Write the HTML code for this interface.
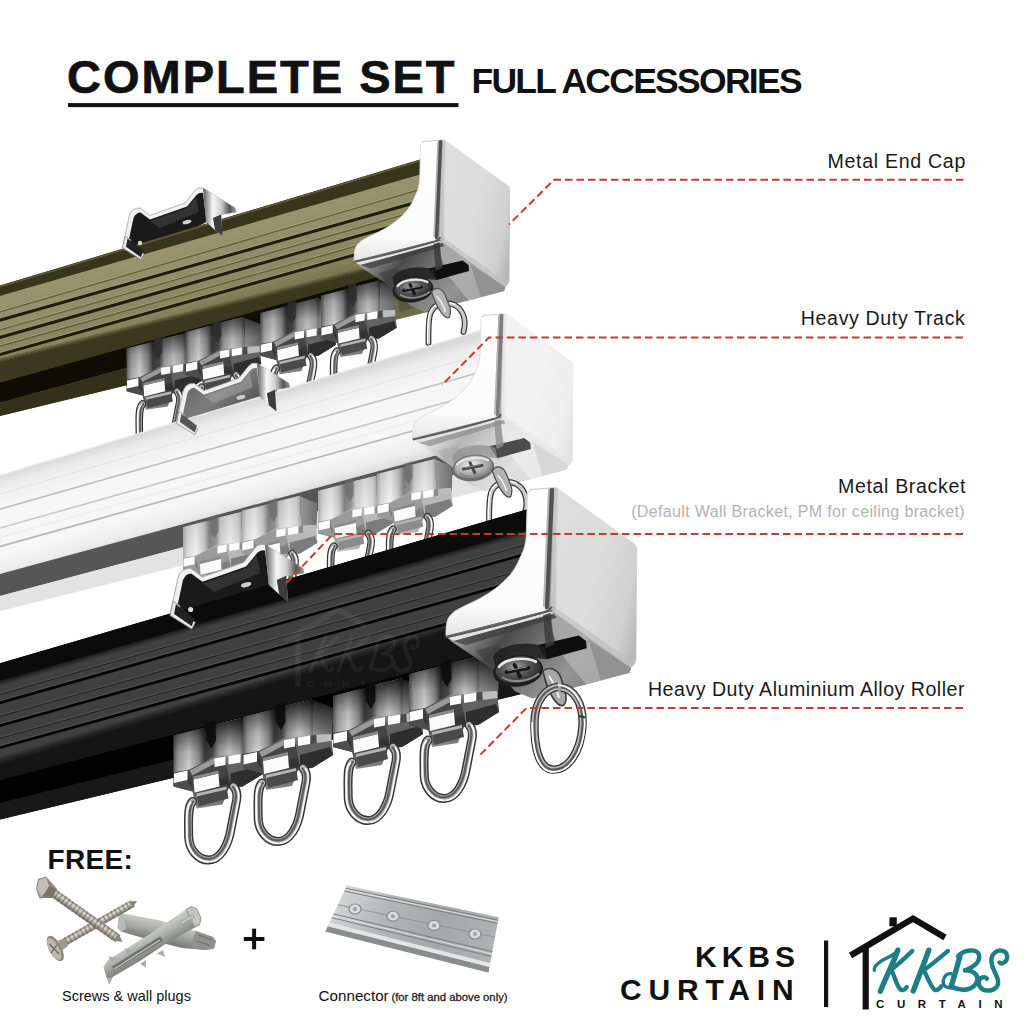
<!DOCTYPE html>
<html><head><meta charset="utf-8"><title>Complete Set</title>
<style>
html,body{margin:0;padding:0;background:#fff;}
body{width:1024px;height:1024px;position:relative;overflow:hidden;font-family:"Liberation Sans",sans-serif;color:#111;}
svg.art{position:absolute;left:0;top:0;}
.t{position:absolute;white-space:nowrap;line-height:1;transform-origin:left top;}
.r{transform-origin:right top;}
.lbl{font-size:19.6px;color:#1a1a1a;letter-spacing:0.45px;}
</style></head><body>
<svg class="art" width="1024" height="1024" viewBox="0 0 1024 1024">
<defs>

<linearGradient id="chromeV" x1="0" y1="0" x2="0" y2="1">
 <stop offset="0" stop-color="#f4f4f4"/><stop offset="0.35" stop-color="#bdbdbd"/><stop offset="0.55" stop-color="#6a6a6a"/><stop offset="0.8" stop-color="#a8a8a8"/><stop offset="1" stop-color="#e8e8e8"/>
</linearGradient>
<linearGradient id="chromeH" x1="0" y1="0" x2="1" y2="0">
 <stop offset="0" stop-color="#5a5a5a"/><stop offset="0.3" stop-color="#f8f8f8"/><stop offset="0.55" stop-color="#cfcfcf"/><stop offset="0.8" stop-color="#555"/><stop offset="1" stop-color="#9a9a9a"/>
</linearGradient>
<linearGradient id="ringG" x1="0" y1="0" x2="1" y2="0">
 <stop offset="0" stop-color="#777"/><stop offset="0.25" stop-color="#f5f5f5"/><stop offset="0.5" stop-color="#9c9c9c"/><stop offset="0.75" stop-color="#ededed"/><stop offset="1" stop-color="#666"/>
</linearGradient>
<linearGradient id="bodyG" x1="0" y1="0" x2="1" y2="0">
 <stop offset="0" stop-color="#606060"/><stop offset="0.07" stop-color="#a8a8a8"/><stop offset="0.22" stop-color="#d8d8d8"/><stop offset="0.36" stop-color="#989898"/><stop offset="0.45" stop-color="#3f3f3f"/><stop offset="0.56" stop-color="#505050"/><stop offset="0.64" stop-color="#a9a9a9"/><stop offset="0.8" stop-color="#dedede"/><stop offset="0.94" stop-color="#b8b8b8"/><stop offset="1" stop-color="#808080"/>
</linearGradient>
<linearGradient id="bodyGL" x1="0" y1="0" x2="1" y2="0">
 <stop offset="0" stop-color="#b0b0b0"/><stop offset="0.07" stop-color="#dcdcdc"/><stop offset="0.22" stop-color="#f6f6f6"/><stop offset="0.36" stop-color="#cfcfcf"/><stop offset="0.45" stop-color="#8a8a8a"/><stop offset="0.56" stop-color="#9a9a9a"/><stop offset="0.64" stop-color="#dadada"/><stop offset="0.8" stop-color="#f8f8f8"/><stop offset="0.94" stop-color="#e2e2e2"/><stop offset="1" stop-color="#b5b5b5"/>
</linearGradient>
<linearGradient id="bodyShadeK" x1="0" y1="0" x2="0" y2="1">
 <stop offset="0" stop-color="#000" stop-opacity="0.9"/><stop offset="0.3" stop-color="#000" stop-opacity="0.5"/><stop offset="0.6" stop-color="#000" stop-opacity="0.15"/><stop offset="1" stop-color="#000" stop-opacity="0"/>
</linearGradient>
<linearGradient id="bodyShadeL" x1="0" y1="0" x2="0" y2="1">
 <stop offset="0" stop-color="#000" stop-opacity="0.15"/><stop offset="1" stop-color="#000" stop-opacity="0"/>
</linearGradient>
<linearGradient id="sideG" x1="0" y1="0" x2="1" y2="0.3">
 <stop offset="0" stop-color="#adadad"/><stop offset="1" stop-color="#7d7d7d"/>
</linearGradient>
<linearGradient id="bodyShade" x1="0" y1="0" x2="0" y2="1">
 <stop offset="0" stop-color="#000" stop-opacity="0.7"/><stop offset="0.45" stop-color="#000" stop-opacity="0.2"/><stop offset="1" stop-color="#000" stop-opacity="0"/>
</linearGradient>
<linearGradient id="capRight" x1="0" y1="0.3" x2="1" y2="0.8">
 <stop offset="0" stop-color="#dedede"/><stop offset="0.5" stop-color="#dcdcdc"/><stop offset="0.85" stop-color="#d0d0d0"/><stop offset="1" stop-color="#b8b8b8"/>
</linearGradient>
<linearGradient id="capRidge" x1="0" y1="0" x2="1" y2="0">
 <stop offset="0" stop-color="#ffffff"/><stop offset="0.25" stop-color="#a5a5a5"/><stop offset="0.45" stop-color="#4a4a4a"/><stop offset="0.62" stop-color="#8a8a8a"/><stop offset="0.8" stop-color="#c9c9c9"/><stop offset="1" stop-color="#e3e3e3"/>
</linearGradient>
<linearGradient id="capBottom" x1="0" y1="0" x2="1" y2="0.4">
 <stop offset="0" stop-color="#6a6a6a"/><stop offset="0.18" stop-color="#9a9a9a"/><stop offset="0.38" stop-color="#4a4a4a"/><stop offset="0.55" stop-color="#6d6d6d"/><stop offset="0.8" stop-color="#949494"/><stop offset="1" stop-color="#808080"/>
</linearGradient>
<linearGradient id="capLeft" x1="0" y1="0" x2="0" y2="1">
 <stop offset="0" stop-color="#ffffff"/><stop offset="0.8" stop-color="#fbfbfb"/><stop offset="1" stop-color="#e4e4e4"/>
</linearGradient>
<linearGradient id="capBottomL" x1="0" y1="0" x2="1" y2="0.4">
 <stop offset="0" stop-color="#cfcfcf"/><stop offset="0.18" stop-color="#ededed"/><stop offset="0.38" stop-color="#b5b5b5"/><stop offset="0.55" stop-color="#cdcdcd"/><stop offset="0.8" stop-color="#e2e2e2"/><stop offset="1" stop-color="#d5d5d5"/>
</linearGradient>
<radialGradient id="screwGL" cx="0.45" cy="0.4" r="0.7">
 <stop offset="0" stop-color="#f4f4f4"/><stop offset="0.45" stop-color="#b9b9b9"/><stop offset="1" stop-color="#7a7a7a"/>
</radialGradient>
<radialGradient id="screwG" cx="0.45" cy="0.4" r="0.7">
 <stop offset="0" stop-color="#a5a5a5"/><stop offset="0.45" stop-color="#555"/><stop offset="1" stop-color="#1c1c1c"/>
</radialGradient>
<linearGradient id="brL" x1="0" y1="0" x2="1" y2="1">
 <stop offset="0" stop-color="#5c5c5c"/><stop offset="0.45" stop-color="#7d7d7d"/><stop offset="0.7" stop-color="#5a5a5a"/><stop offset="1" stop-color="#444"/>
</linearGradient>
<linearGradient id="nutGL" x1="0" y1="0" x2="0" y2="1">
 <stop offset="0" stop-color="#d0d0d0"/><stop offset="0.3" stop-color="#9a9a9a"/><stop offset="0.55" stop-color="#777"/><stop offset="0.8" stop-color="#a5a5a5"/><stop offset="1" stop-color="#c5c5c5"/>
</linearGradient>
<linearGradient id="nutG" x1="0" y1="0" x2="0" y2="1">
 <stop offset="0" stop-color="#9a9a9a"/><stop offset="0.3" stop-color="#4a4a4a"/><stop offset="0.55" stop-color="#2f2f2f"/><stop offset="0.8" stop-color="#6a6a6a"/><stop offset="1" stop-color="#8a8a8a"/>
</linearGradient>
<filter id="soft" x="-5%" y="-5%" width="110%" height="110%"><feGaussianBlur stdDeviation="0.6"/></filter>
<filter id="soft2" x="-5%" y="-5%" width="110%" height="110%"><feGaussianBlur stdDeviation="1.2"/></filter>


<g id="roller">
 <!-- side face -->
 <polygon points="313,700 333,708 332,738 313,740" fill="url(#sideG)"/>
 <!-- lobes -->
 <polygon points="243,717 275,709 284,706 313,699 313,740 284,740 259,752 243,756" fill="url(#bodyG)"/>
 <polygon points="243,717 275,709 284,706 313,699 333,708 332,738 313,740 284,740 259,752 243,756" fill="url(#bodyShade)"/>
 <polygon points="275,705 285,702 285.500,722 281,730 276,722" fill="#2e2e2e" opacity="0.85"/>
 <!-- chrome nut -->
 <polygon points="243,754 259,751 284,738 331,734 333,755 312,768 298,770 292,786 266,790 262,773 243,768" fill="url(#nutG)"/>
 <polygon points="258,752 284,739 296,745 296,757 262,770" fill="#454545"/>
 <polygon points="259,752 284,739.500 290,742 262,757" fill="#9a9a9a"/>
 <polygon points="296,746 331,738 333,755 312,768 300,768" fill="#626262"/>
 <polygon points="300,755 330,747 333,755 312,768 300,768" fill="#2e2e2e"/>
 <polygon points="243,764 257,761 262,771 262,773 243,768" fill="#4d4d4d"/>
 <polygon points="243.500,755 257,752 257,761.500 243.500,764.500" fill="#fdfdfd"/>
 <polygon points="284,740 295,738 295,746.500 284,748.500" fill="#fdfdfd"/>
 <polygon points="298,737.500 310,735.500 310,744 298,746" fill="#fdfdfd"/>
 <polygon points="311,735.500 316,734.800 316,743 311,744" fill="#4b4b4b"/>
 <polygon points="317,734.700 331,734 331.500,741 317,743" fill="#bdbdbd"/>
 <polygon points="263,761 288,755 289,768 264,774" fill="#fafafa"/>
 <polygon points="263,758 288,752 288,755 263,761" fill="#8b8b8b"/>
 <polygon points="266,775 296,768 298,780 268,788" fill="#4a4a4a"/>
 <polygon points="266,775 296,768 296,771 266,778" fill="#b5b5b5"/>
</g>
<g id="ring">
 <path d="M262,783 C258,787 258,795 258,805 L258.200,819 C259,832 268,841.500 278,841.500 C290,841.500 298,826 300.400,810.800 L306,782 C307,776 306,771 303,768" fill="none" stroke="#333" stroke-width="9" stroke-linecap="round"/>
 <path d="M262,783 C258,787 258,795 258,805 L258.200,819 C259,832 268,841.500 278,841.500 C290,841.500 298,826 300.400,810.800 L306,782 C307,776 306,771 303,768" fill="none" stroke="#b4b4b4" stroke-width="6.200" stroke-linecap="round"/>
 <path d="M262.800,783 C259,787 259,795 259,805 L259.200,819 C260,831 268,840.500 278,840.500 C289,840.500 297,826 299.400,810.800 L305,782 C306,776 305,771 302.500,768.500" fill="none" stroke="#5f5f5f" stroke-width="2.400" stroke-linecap="round"/>
 <path d="M260.200,784 C256.300,788 256.200,795 256.200,805 L256.400,819 C257.200,833 267,843.300 278,843.300" fill="none" stroke="#ffffff" stroke-width="1.800" stroke-linecap="round"/>
 <path d="M280,843.300 C292,842.500 300,827 302.400,811 L308,782 C308.800,777 308,772 305.500,768.500" fill="none" stroke="#ffffff" stroke-width="1.500" stroke-linecap="round"/>
</g>


<g id="rollerK">
 <!-- side face -->
 <polygon points="313,700 333,708 332,738 313,740" fill="url(#sideG)"/>
 <!-- lobes -->
 <polygon points="243,717 275,709 284,706 313,699 313,740 284,740 259,752 243,756" fill="url(#bodyG)"/>
 <polygon points="243,717 275,709 284,706 313,699 333,708 332,738 313,740 284,740 259,752 243,756" fill="url(#bodyShadeK)"/>
 <polygon points="275,705 285,702 285.500,722 281,730 276,722" fill="#0c0c0c" opacity="0.9"/>
 <!-- chrome nut -->
 <polygon points="243,754 259,751 284,738 331,734 333,755 312,768 298,770 292,786 266,790 262,773 243,768" fill="url(#nutG)"/>
 <polygon points="258,752 284,739 296,745 296,757 262,770" fill="#454545"/>
 <polygon points="259,752 284,739.500 290,742 262,757" fill="#9a9a9a"/>
 <polygon points="296,746 331,738 333,755 312,768 300,768" fill="#626262"/>
 <polygon points="300,755 330,747 333,755 312,768 300,768" fill="#2e2e2e"/>
 <polygon points="243,764 257,761 262,771 262,773 243,768" fill="#4d4d4d"/>
 <polygon points="243.500,755 257,752 257,761.500 243.500,764.500" fill="#fdfdfd"/>
 <polygon points="284,740 295,738 295,746.500 284,748.500" fill="#fdfdfd"/>
 <polygon points="298,737.500 310,735.500 310,744 298,746" fill="#fdfdfd"/>
 <polygon points="311,735.500 316,734.800 316,743 311,744" fill="#4b4b4b"/>
 <polygon points="317,734.700 331,734 331.500,741 317,743" fill="#bdbdbd"/>
 <polygon points="263,761 288,755 289,768 264,774" fill="#fafafa"/>
 <polygon points="263,758 288,752 288,755 263,761" fill="#8b8b8b"/>
 <polygon points="266,775 296,768 298,780 268,788" fill="#4a4a4a"/>
 <polygon points="266,775 296,768 296,771 266,778" fill="#b5b5b5"/>
</g>


<g id="rollerL">
 <!-- side face -->
 <polygon points="313,700 333,708 332,738 313,740" fill="url(#sideG)"/>
 <!-- lobes -->
 <polygon points="243,717 275,709 284,706 313,699 313,740 284,740 259,752 243,756" fill="url(#bodyGL)"/>
 <polygon points="243,717 275,709 284,706 313,699 333,708 332,738 313,740 284,740 259,752 243,756" fill="url(#bodyShadeL)"/>
 <polygon points="275,705 285,702 285.500,722 281,730 276,722" fill="#6a6a6a" opacity="0.7"/>
 <!-- chrome nut -->
 <polygon points="243,754 259,751 284,738 331,734 333,755 312,768 298,770 292,786 266,790 262,773 243,768" fill="url(#nutGL)"/>
 <polygon points="258,752 284,739 296,745 296,757 262,770" fill="#9c9c9c"/>
 <polygon points="259,752 284,739.500 290,742 262,757" fill="#9a9a9a"/>
 <polygon points="296,746 331,738 333,755 312,768 300,768" fill="#b8b8b8"/>
 <polygon points="300,755 330,747 333,755 312,768 300,768" fill="#7c7c7c"/>
 <polygon points="243,764 257,761 262,771 262,773 243,768" fill="#9a9a9a"/>
 <polygon points="243.500,755 257,752 257,761.500 243.500,764.500" fill="#fdfdfd"/>
 <polygon points="284,740 295,738 295,746.500 284,748.500" fill="#fdfdfd"/>
 <polygon points="298,737.500 310,735.500 310,744 298,746" fill="#fdfdfd"/>
 <polygon points="311,735.500 316,734.800 316,743 311,744" fill="#8a8a8a"/>
 <polygon points="317,734.700 331,734 331.500,741 317,743" fill="#bdbdbd"/>
 <polygon points="263,761 288,755 289,768 264,774" fill="#fafafa"/>
 <polygon points="263,758 288,752 288,755 263,761" fill="#8b8b8b"/>
 <polygon points="266,775 296,768 298,780 268,788" fill="#8c8c8c"/>
 <polygon points="266,775 296,768 296,771 266,778" fill="#b5b5b5"/>
</g>


<g id="cap">
 <!-- bottom face -->
 <polygon points="-86.3,121.2 -0.85,99.6 64.7,146.9 63.5,151 28,160.5 -16,172 -30,166 -44.5,150.5 -82,125.5" fill="url(#capBottom)"/>
 <polygon points="0,100.4 64.7,146.9 63.5,151 28,160.5 8,136 -1,114" fill="#b2b2b2" opacity="0.8"/>
 <polygon points="30,124 64.7,146.9 63.5,151 40,157" fill="#8c8c8c" opacity="0.8"/>
 <polygon points="-85,122.600 -0.85,101 1.500,102.800 -80,125" fill="#e2e2e2"/>
 <polygon points="-80,125 1.500,102.800 4,106 -70,128.500" fill="#3d3d3d" opacity="0.75"/>
 <polygon points="-62,133 -44,128 -30,140 -47,150" fill="#3a3a3a" opacity="0.55"/>
 <polygon points="-12,128.500 22,120.5 28,125 28.500,131 -4,140" fill="#0f0f0f"/>
 <path d="M-48,138 C-44,128 -20,124 -6,130 L-4,140 C-14,138 -36,140 -46,146 Z" fill="#1f1f1f" opacity="0.85"/>
 <polygon points="-7,104 -1,102 2,128 -5,131" fill="#3a3a3a" opacity="0.8"/>
 <!-- screw -->
 <ellipse cx="-27.5" cy="149.5" rx="20.500" ry="12.800" fill="#1e1e1e" transform="rotate(-8 -27.5 149.5)"/>
 <ellipse cx="-27.5" cy="148.500" rx="18.500" ry="10.800" fill="url(#screwG)" transform="rotate(-8 -27.5 148.5)"/>
 <path d="M-43,146 C-38,139.500 -22,137.500 -13,142" stroke="#e8e8e8" stroke-width="2.200" fill="none" stroke-linecap="round"/>
 <path d="M-40,155 C-32,160 -18,158 -11,152" stroke="#8a8a8a" stroke-width="1.800" fill="none" stroke-linecap="round"/>
 <path d="M-37,150.500 L-19,147 M-30.500,144.500 L-26,154" stroke="#161616" stroke-width="3" stroke-linecap="round"/>
 <path d="M-36,149.300 L-20,146.200" stroke="#9a9a9a" stroke-width="0.800"/>
 <!-- right face -->
 <path d="M2,0.2 L5,0.3 L67,45.3 Q69.7,47.3 69.7,50.500 L68.9,140.2 Q68.5,144 64.7,146.9 L0,100.400 Z" fill="url(#capRight)"/>
 <path d="M68.9,140.2 Q68.5,144 64.7,146.9 L0,100.400 L0,96 L62,139 Z" fill="#bdbdbd" opacity="0.6"/>
 <!-- left face -->
 <path d="M-19.9,4.100 L-20.8,39.8 C-21.5,46 -22.5,50 -24.100,53.100 C-27,60 -30,67 -35.7,73 C-42,80 -50,85.5 -57.3,89.6 C-64,93.5 -71,96 -77.2,99.6 C-82,102.5 -84.5,105.5 -85.5,109.5 C-86.3,113 -86.5,117 -86.3,121.2 L-0.85,99.6 L0,0 L-17,1.500 Q-19.8,1.800 -19.9,4.100 Z" fill="url(#capLeft)"/>
 <path d="M-19.9,4.100 L-20.8,39.8 C-21.5,46 -22.5,50 -24.100,53.100 C-27,60 -30,67 -35.7,73 C-42,80 -50,85.5 -57.3,89.6 C-64,93.5 -71,96 -77.2,99.6 C-82,102.5 -84.5,105.5 -85.5,109.5 C-86.3,113 -86.5,117 -86.3,121.2" fill="none" stroke="#d9d9d9" stroke-width="0.8"/>
 <path d="M-86.3,121.6 L-0.85,100" stroke="#6e6e6e" stroke-width="1.5" fill="none"/>
 <path d="M-19,3 L-17,1.5 L0,0 L5,0.3" stroke="#cfcfcf" stroke-width="1" fill="none"/>
 <!-- ridge -->
 <polygon points="-3,0.8 2.500,0 6,1.200 4,100.400 -1,100.400 -7.5,101 -7,96" fill="url(#capRidge)" opacity="0.6"/>
 <path d="M3.600,1.600 L0,99.500" stroke="#c6c6c6" stroke-width="2.400" fill="none"/>
 <path d="M-2.400,2.200 L-6.600,97" stroke="#b5b5b5" stroke-width="1.400" fill="none"/>
 <path d="M0.200,1.800 L-4,97.500" stroke="#515151" stroke-width="3.400" fill="none" stroke-linecap="round"/>
 <path d="M-86,122 Q-40,112 -6,101.500 Q-1.500,100 0,97" stroke="#5a5a5a" stroke-width="1.600" fill="none"/>
</g>
<g id="capring">
 <path d="M-12,203 C-12,190 -12.500,178 -9.500,172 C-5.500,163 6,161.500 14,165 C22,169 26.500,179 23,192" fill="none" stroke="#343434" stroke-width="5.8" stroke-linecap="round"/>
 <path d="M-12,203 C-12,190 -12.500,178 -9.500,172 C-5.500,163 6,161.500 14,165 C22,169 26.500,179 23,192" fill="none" stroke="#c9c9c9" stroke-width="3.4" stroke-linecap="round"/>
 <path d="M-12.800,203 C-12.800,190 -13.300,178 -10.300,171.500 C-6,162 6,160.500 14.500,164.200" fill="none" stroke="#fff" stroke-width="1.300" stroke-linecap="round"/>
 <path d="M-9,152 C-5,146 2,148 5,156 C8,164 12,170 9,177 C5,181 -3,170 -9,152 Z" fill="#b3b3b3" stroke="#4d4d4d" stroke-width="1.2"/>
 <path d="M-4,156 C0,160 3,166 5,172" stroke="#f2f2f2" stroke-width="1.5" fill="none"/>
</g>


<g id="capL">
 <!-- bottom face -->
 <polygon points="-86.3,121.2 -0.85,99.6 64.7,146.9 63.5,151 28,160.5 -16,172 -30,166 -44.5,150.5 -82,125.5" fill="url(#capBottomL)"/>
 <polygon points="0,100.4 64.7,146.9 63.5,151 28,160.5 8,136 -1,114" fill="#ececec" opacity="0.8"/>
 <polygon points="30,124 64.7,146.9 63.5,151 40,157" fill="#d2d2d2" opacity="0.8"/>
 <polygon points="-85,122.600 -0.85,101 1.500,102.800 -80,125" fill="#e2e2e2"/>
 <polygon points="-80,125 1.500,102.800 4,106 -70,128.500" fill="#8f8f8f" opacity="0.75"/>
 <polygon points="-62,133 -44,128 -30,140 -47,150" fill="#a5a5a5" opacity="0.55"/>
 <polygon points="-12,128.500 22,120.5 28,125 28.500,131 -4,140" fill="#4c4c4c"/>
 <path d="M-48,138 C-44,128 -20,124 -6,130 L-4,140 C-14,138 -36,140 -46,146 Z" fill="#8e8e8e" opacity="0.7"/>
 <polygon points="-7,104 -1,102 2,128 -5,131" fill="#8d8d8d" opacity="0.8"/>
 <!-- screw -->
 <ellipse cx="-27.5" cy="149.5" rx="20.500" ry="12.800" fill="#6e6e6e" transform="rotate(-8 -27.5 149.5)"/>
 <ellipse cx="-27.5" cy="148.500" rx="18.500" ry="10.800" fill="url(#screwGL)" transform="rotate(-8 -27.5 148.5)"/>
 <path d="M-43,146 C-38,139.500 -22,137.500 -13,142" stroke="#e8e8e8" stroke-width="2.200" fill="none" stroke-linecap="round"/>
 <path d="M-40,155 C-32,160 -18,158 -11,152" stroke="#8a8a8a" stroke-width="1.800" fill="none" stroke-linecap="round"/>
 <path d="M-37,150.500 L-19,147 M-30.500,144.500 L-26,154" stroke="#4a4a4a" stroke-width="3" stroke-linecap="round"/>
 <path d="M-36,149.300 L-20,146.200" stroke="#9a9a9a" stroke-width="0.800"/>
 <!-- right face -->
 <path d="M2,0.2 L5,0.3 L67,45.3 Q69.7,47.3 69.7,50.500 L68.9,140.2 Q68.5,144 64.7,146.9 L0,100.400 Z" fill="url(#capRight)"/>
 <path d="M68.9,140.2 Q68.5,144 64.7,146.9 L0,100.400 L0,96 L62,139 Z" fill="#bdbdbd" opacity="0.6"/>
 <!-- left face -->
 <path d="M-19.9,4.100 L-20.8,39.8 C-21.5,46 -22.5,50 -24.100,53.100 C-27,60 -30,67 -35.7,73 C-42,80 -50,85.5 -57.3,89.6 C-64,93.5 -71,96 -77.2,99.6 C-82,102.5 -84.5,105.5 -85.5,109.5 C-86.3,113 -86.5,117 -86.3,121.2 L-0.85,99.6 L0,0 L-17,1.500 Q-19.8,1.800 -19.9,4.100 Z" fill="url(#capLeft)"/>
 <path d="M-19.9,4.100 L-20.8,39.8 C-21.5,46 -22.5,50 -24.100,53.100 C-27,60 -30,67 -35.7,73 C-42,80 -50,85.5 -57.3,89.6 C-64,93.5 -71,96 -77.2,99.6 C-82,102.5 -84.5,105.5 -85.5,109.5 C-86.3,113 -86.5,117 -86.3,121.2" fill="none" stroke="#d9d9d9" stroke-width="0.8"/>
 <path d="M-86.3,121.6 L-0.85,100" stroke="#6e6e6e" stroke-width="1.5" fill="none"/>
 <path d="M-19,3 L-17,1.5 L0,0 L5,0.3" stroke="#cfcfcf" stroke-width="1" fill="none"/>
 <!-- ridge -->
 <polygon points="-3,0.8 2.500,0 6,1.200 4,100.400 -1,100.400 -7.5,101 -7,96" fill="url(#capRidge)" opacity="0.6"/>
 <path d="M3.600,1.600 L0,99.500" stroke="#c6c6c6" stroke-width="2.400" fill="none"/>
 <path d="M-2.400,2.200 L-6.600,97" stroke="#b5b5b5" stroke-width="1.400" fill="none"/>
 <path d="M0.200,1.800 L-4,97.500" stroke="#7d7d7d" stroke-width="3.400" fill="none" stroke-linecap="round"/>
 <path d="M-86,122 Q-40,112 -6,101.500 Q-1.500,100 0,97" stroke="#5a5a5a" stroke-width="1.600" fill="none"/>
</g>


<g id="bracketBackD">
 <path d="M122.5,248 L129.5,215 Q132,208 140,208 L150,215.5 L185,203 L194.5,191 Q198,186.5 203,188 L235,208 L236,212 L221,214.5 L222.5,236 L208,224 L141,259.5 Z" fill="#f1f1f1" stroke="#a5a5a5" stroke-width="0.8"/>
 <path d="M127.5,246 L133.5,218 Q136,212.5 140.5,212.5 L150,219.5 L187,206.5 L196.5,195 Q199.5,192 203,193 L206.5,222 L142,255.5 Z" fill="#1a1a1a"/>
 <path d="M150,221 L187,208 L196,197 L199,212 L160,228 Z" fill="#4a4a4a" opacity="0.5"/>
 <ellipse cx="187" cy="222" rx="4.500" ry="2" fill="#cfcfcf" transform="rotate(-15 187 222)"/>
</g>
<g id="bracketFrontD">
 <path d="M203,188 L235,208 L236,212 L221,214.5 L222.5,236 L215,230 L206,222 Z" fill="url(#chromeH)"/>
 <path d="M221,214.500 L222.500,236 L215,230 L213,218 Z" fill="#3c3c3c"/>
 <path d="M122.500,248 L125,236 L131,240 L130,246 L144,254 L141,259.500 Z" fill="#e9e9e9" stroke="#8f8f8f" stroke-width="0.8"/>
 <path d="M126,246.800 L127.500,238.500 L143,250.500 L141,257.300 Z" fill="#222"/>
 <circle cx="140" cy="243" r="2.200" fill="#d9d9d9"/>
</g>


<g id="bracketBackL">
 <path d="M122.5,248 L129.5,215 Q132,208 140,208 L150,215.5 L185,203 L194.5,191 Q198,186.5 203,188 L235,208 L236,212 L221,214.5 L222.5,236 L208,224 L141,259.5 Z" fill="#f1f1f1" stroke="#a5a5a5" stroke-width="0.8"/>
 <path d="M127.5,246 L133.5,218 Q136,212.5 140.5,212.5 L150,219.5 L187,206.5 L196.5,195 Q199.5,192 203,193 L206.5,222 L142,255.5 Z" fill="url(#brL)"/>
 <path d="M150,221 L187,208 L196,197 L199,212 L160,228 Z" fill="#a5a5a5" opacity="0.5"/>
 <ellipse cx="187" cy="222" rx="4.500" ry="2" fill="#cfcfcf" transform="rotate(-15 187 222)"/>
</g>
<g id="bracketFrontL">
 <path d="M203,188 L235,208 L236,212 L221,214.5 L222.5,236 L215,230 L206,222 Z" fill="url(#chromeH)"/>
 <path d="M221,214.500 L222.500,236 L215,230 L213,218 Z" fill="#3c3c3c"/>
 <path d="M122.500,248 L125,236 L131,240 L130,246 L144,254 L141,259.500 Z" fill="#e9e9e9" stroke="#8f8f8f" stroke-width="0.8"/>
 <path d="M126,246.800 L127.500,238.500 L143,250.500 L141,257.300 Z" fill="#555"/>
 <circle cx="140" cy="243" r="2.200" fill="#d9d9d9"/>
</g>


<linearGradient id="gFace" gradientUnits="userSpaceOnUse" x1="0" y1="296" x2="28" y2="390">
 <stop offset="0" stop-color="#97946f"/><stop offset="0.3" stop-color="#918e69"/><stop offset="0.62" stop-color="#87845e"/><stop offset="0.75" stop-color="#7a7751"/><stop offset="1" stop-color="#5a5734"/>
</linearGradient>
<linearGradient id="gDark" gradientUnits="userSpaceOnUse" x1="0" y1="0" x2="430" y2="0">
 <stop offset="0" stop-color="#3a381c" stop-opacity="0"/><stop offset="0.5" stop-color="#3a381c" stop-opacity="0.1"/><stop offset="1" stop-color="#3a381c" stop-opacity="0.28"/>
</linearGradient>
<linearGradient id="gSoft" gradientUnits="userSpaceOnUse" x1="0" y1="357.8" x2="1.1" y2="361.8">
 <stop offset="0" stop-color="#3a381f" stop-opacity="0"/><stop offset="1" stop-color="#3a381f" stop-opacity="1"/>
</linearGradient>
<linearGradient id="gShadow" gradientUnits="userSpaceOnUse" x1="130" y1="0" x2="420" y2="0">
 <stop offset="0" stop-color="#2c2a12" stop-opacity="0"/><stop offset="0.2" stop-color="#2c2a12" stop-opacity="0.5"/><stop offset="1" stop-color="#2c2a12" stop-opacity="0.7"/>
</linearGradient>


<linearGradient id="wFace" gradientUnits="userSpaceOnUse" x1="0" y1="475" x2="30" y2="578">
 <stop offset="0" stop-color="#d9d9d9"/><stop offset="0.1" stop-color="#ececec"/><stop offset="0.3" stop-color="#f6f6f6"/><stop offset="0.7" stop-color="#f7f7f7"/><stop offset="0.86" stop-color="#ededed"/><stop offset="1" stop-color="#d2d2d2"/>
</linearGradient>


<linearGradient id="bSoft" gradientUnits="userSpaceOnUse" x1="0" y1="757" x2="1.92" y2="763.440">
 <stop offset="0" stop-color="#151515" stop-opacity="0"/><stop offset="1" stop-color="#151515" stop-opacity="1"/>
</linearGradient>
<linearGradient id="bTopSoft" gradientUnits="userSpaceOnUse" x1="0" y1="680.3" x2="1.8" y2="686.6">
 <stop offset="0" stop-color="#0b0b0b" stop-opacity="1"/><stop offset="1" stop-color="#0b0b0b" stop-opacity="0"/>
</linearGradient>
<linearGradient id="bFace" gradientUnits="userSpaceOnUse" x1="0" y1="680" x2="28" y2="782">
 <stop offset="0" stop-color="#3b3b3b"/><stop offset="0.7" stop-color="#3d3d3d"/><stop offset="0.8" stop-color="#2e2e2e"/><stop offset="0.88" stop-color="#1a1a1a"/><stop offset="1" stop-color="#0e0e0e"/>
</linearGradient>

</defs>
<!-- green track -->
<g transform="translate(122.5,248) scale(1.0) translate(-122.5,-248)"><use href="#bracketBackD"/></g>
<polygon points="-2,286.2 436,154.8 436,310.1 -2,416.5" fill="#6f6c4a" />
<polygon points="-2,286.2 436,154.8 436,170 -2,296.6" fill="#37351b" />
<polygon points="-2,296.6 436,170 436,260.5 -2,383.1" fill="url(#gFace)" />
<polygon points="-2,358.3 436,249.8 436,250.9 -2,359.3" fill="#3a381f" opacity="0.2"/>
<polygon points="-2,359.3 436,250.8 436,251.9 -2,360.3" fill="#3a381f" opacity="0.45"/>
<polygon points="-2,360.3 436,251.8 436,252.9 -2,361.3" fill="#3a381f" opacity="0.7"/>
<polygon points="-2,361.3 436,252.8 436,253.9 -2,362.3" fill="#3a381f" opacity="0.9"/>
<polygon points="-2,362.3 436,253.8 436,260.5 -2,383.1" fill="#3a381f" />
<line x1="-2" y1="311.2" x2="436" y2="183.7" stroke="#a5a27e" stroke-width="0.8" />
<line x1="-2" y1="312.4" x2="436" y2="184.9" stroke="#615e3b" stroke-width="1.3" />
<line x1="-2" y1="329.2" x2="436" y2="204.4" stroke="#a5a27e" stroke-width="0.8" />
<line x1="-2" y1="330.4" x2="436" y2="205.6" stroke="#615e3b" stroke-width="1.3" />
<line x1="-2" y1="345.6" x2="436" y2="222.5" stroke="#a5a27e" stroke-width="0.8" />
<line x1="-2" y1="346.8" x2="436" y2="223.7" stroke="#615e3b" stroke-width="1.3" />
<line x1="-2" y1="320.6" x2="436" y2="196.6" stroke="#1f1d0a" stroke-width="3.2" />
<line x1="-2" y1="318.6" x2="436" y2="194.6" stroke="#a19e7a" stroke-width="0.8" />
<line x1="-2" y1="337.8" x2="436" y2="213.8" stroke="#1f1d0a" stroke-width="3.2" />
<line x1="-2" y1="335.8" x2="436" y2="211.8" stroke="#a19e7a" stroke-width="0.8" />
<line x1="-2" y1="355" x2="436" y2="231.9" stroke="#1f1d0a" stroke-width="3.2" />
<line x1="-2" y1="353" x2="436" y2="229.9" stroke="#a19e7a" stroke-width="0.8" />
<polygon points="-2,383.1 436,260.5 436,283.3 -2,403.3" fill="#0f0d05" />
<polygon points="-2,403.3 135,365.8 135,383.2 -2,416.5" fill="#33311a" />
<line x1="-2" y1="287.4" x2="436" y2="156" stroke="#5e5c3c" stroke-width="1.5" />
<!-- green rollers -->
<g transform="translate(126.6,379.6) scale(0.84) translate(-243,-754)"><use href="#roller"/><use href="#ring"/></g>
<g transform="translate(185.6,363) scale(0.84) translate(-243,-754)"><use href="#roller"/><use href="#ring"/></g>
<g transform="translate(260.3,344) scale(0.84) translate(-243,-754)"><use href="#roller"/><use href="#ring"/></g>
<g transform="translate(321,326.8) scale(0.84) translate(-243,-754)"><use href="#roller"/><use href="#ring"/></g>
<polygon points="395,290 440,278 440,300 400,312" fill="#5a5838"/>
<g transform="translate(122.5,248) scale(1.0) translate(-122.5,-248)"><use href="#bracketFrontD"/></g>
<g transform="translate(440.5,140) scale(1.0)"><use href="#cap"/><use href="#capring"/></g>
<!-- white track -->
<g transform="translate(176.4,423.3) scale(1.0) translate(-122.5,-248)"><use href="#bracketBackL"/></g>
<polygon points="-2,476.1 500,324.6 500,486 -2,611.5" fill="#e6e6e6" />
<polygon points="-2,476.1 500,324.6 500,438 -2,574.5" fill="url(#wFace)" />
<line x1="-2" y1="509.6" x2="500" y2="366.5" stroke="#c0c0c0" stroke-width="1.7" />
<line x1="-2" y1="528.6" x2="500" y2="387" stroke="#c6c6c6" stroke-width="1.6" />
<line x1="-2" y1="547.1" x2="500" y2="406.5" stroke="#bababa" stroke-width="1.8" />
<line x1="-2" y1="494.6" x2="500" y2="349" stroke="#e2e2e2" stroke-width="1.0" />
<line x1="-2" y1="538.1" x2="500" y2="397" stroke="#ececec" stroke-width="1" />
<polygon points="-2,574.5 500,438 500,462.5 -2,596.5" fill="#565656" />
<polygon points="-2,596.5 500,462.5 500,486 -2,611.5" fill="#e3e3e3" />
<line x1="-2" y1="476.1" x2="500" y2="324.6" stroke="#e9e9e9" stroke-width="1.5" />
<!-- white rollers -->
<g transform="translate(183,558) scale(0.84) translate(-243,-754)"><use href="#rollerL"/><use href="#ring"/></g>
<g transform="translate(241.8,541.8) scale(0.84) translate(-243,-754)"><use href="#rollerL"/><use href="#ring"/></g>
<g transform="translate(318,521.8) scale(0.84) translate(-243,-754)"><use href="#rollerL"/><use href="#ring"/></g>
<g transform="translate(377,505) scale(0.84) translate(-243,-754)"><use href="#rollerL"/><use href="#ring"/></g>
<g transform="translate(176.4,423.3) scale(1.0) translate(-122.5,-248)"><use href="#bracketFrontL"/></g>
<g transform="translate(501.5,314) scale(1.03)"><use href="#capL"/><use href="#capring"/><path d="M2,0.2 L5,0.3 L67,45.3 Q69.7,47.3 69.7,50.5 L68.9,140.2 Q68.5,144 64.7,146.9 L0,100.4 Z" fill="#fff" opacity="0.62"/></g>
<!-- black track -->
<g transform="translate(170,615.4) scale(1.18) translate(-122.5,-248)"><use href="#bracketBackD"/></g>
<polygon points="-2,663.8 545,504.1 545,688.3 -2,820.1" fill="#141414" />
<polygon points="-2,663.8 545,504.1 545,524.4 -2,681.4" fill="#0b0b0b" />
<polygon points="-2,681.4 545,524.4 545,637.2 -2,780.5" fill="#404040" />
<polygon points="-2,680.9 545,523.9 545,524.9 -2,681.9" fill="#0b0b0b" opacity="0.85"/>
<polygon points="-2,681.9 545,524.9 545,525.9 -2,682.9" fill="#0b0b0b" opacity="0.68"/>
<polygon points="-2,682.9 545,525.9 545,526.9 -2,683.9" fill="#0b0b0b" opacity="0.5"/>
<polygon points="-2,683.9 545,526.9 545,527.9 -2,684.9" fill="#0b0b0b" opacity="0.34"/>
<polygon points="-2,684.9 545,527.9 545,528.9 -2,685.9" fill="#0b0b0b" opacity="0.2"/>
<polygon points="-2,685.9 545,528.9 545,529.9 -2,686.9" fill="#0b0b0b" opacity="0.08"/>
<polygon points="-2,757.6 545,594.6 545,595.6 -2,758.6" fill="#151515" opacity="0.15"/>
<polygon points="-2,758.6 545,595.6 545,596.6 -2,759.6" fill="#151515" opacity="0.3"/>
<polygon points="-2,759.6 545,596.6 545,597.6 -2,760.6" fill="#151515" opacity="0.45"/>
<polygon points="-2,760.6 545,597.6 545,598.6 -2,761.6" fill="#151515" opacity="0.6"/>
<polygon points="-2,761.6 545,598.6 545,599.6 -2,762.6" fill="#151515" opacity="0.75"/>
<polygon points="-2,762.6 545,599.6 545,600.6 -2,763.6" fill="#151515" opacity="0.88"/>
<polygon points="-2,763.6 545,600.6 545,601.6 -2,764.6" fill="#151515" opacity="0.96"/>
<polygon points="-2,764.6 545,601.6 545,637.2 -2,780.5" fill="#151515" />
<line x1="-2" y1="693.6" x2="545" y2="537.7" stroke="#505050" stroke-width="1.1" />
<line x1="-2" y1="695" x2="545" y2="539.1" stroke="#222" stroke-width="1.0" />
<line x1="-2" y1="715.6" x2="545" y2="562.4" stroke="#505050" stroke-width="1.1" />
<line x1="-2" y1="717" x2="545" y2="563.8" stroke="#222" stroke-width="1.0" />
<line x1="-2" y1="737.6" x2="545" y2="585.5" stroke="#505050" stroke-width="1.1" />
<line x1="-2" y1="739" x2="545" y2="586.9" stroke="#222" stroke-width="1.0" />
<line x1="-2" y1="703.3" x2="545" y2="548.5" stroke="#050505" stroke-width="2.8" />
<line x1="-2" y1="701.1" x2="545" y2="546.3" stroke="#525252" stroke-width="0.9" />
<line x1="-2" y1="726.2" x2="545" y2="573.5" stroke="#050505" stroke-width="2.8" />
<line x1="-2" y1="724" x2="545" y2="571.3" stroke="#525252" stroke-width="0.9" />
<line x1="-2" y1="748.2" x2="545" y2="596.6" stroke="#050505" stroke-width="2.8" />
<line x1="-2" y1="746" x2="545" y2="594.4" stroke="#525252" stroke-width="0.9" />
<polygon points="-2,780.5 545,637.2 545,666.8 -2,803.5" fill="#020202" />
<polygon points="-2,803.5 545,666.8 545,688.3 -2,820.1" fill="#181818" />
<!-- black rollers -->
<g transform="translate(173.5,772.5) scale(1.0) translate(-243,-754)"><use href="#rollerK"/><use href="#ring"/></g>
<g transform="translate(243,754) scale(1.0) translate(-243,-754)"><use href="#rollerK"/><use href="#ring"/></g>
<g transform="translate(333,733) scale(1.0) translate(-243,-754)"><use href="#rollerK"/><use href="#ring"/></g>
<g transform="translate(409,711) scale(1.0) translate(-243,-754)"><use href="#rollerK"/><use href="#ring"/></g>
<g transform="translate(170,615.4) scale(1.18) translate(-122.5,-248)"><use href="#bracketFrontD"/></g>
<g transform="translate(551.8,487.8) scale(1.225)"><use href="#cap"/></g>

<g id="ovalring">
 <path d="M543,671 C549,666 558,669 561,678 C564,689 569,698 564,705 C557,709 547,691 543,671 Z" fill="#a8a8a8" stroke="#3a3a3a" stroke-width="1.600"/>
 <path d="M549,676 C553,682 557,690 559,698" stroke="#f4f4f4" stroke-width="1.8" fill="none"/>
 <path d="M558,687 C546,688 535,700 534.500,722 C534,745 538,768 552,769.500 C568,771 581,752 582.500,725 C583.500,703 574,689 561,687.500" fill="none" stroke="#333" stroke-width="8.4"/>
 <path d="M558,687 C546,688 535,700 534.500,722 C534,745 538,768 552,769.500 C568,771 581,752 582.500,725 C583.500,703 574,689 561,687.500" fill="none" stroke="#b9b9b9" stroke-width="5.8"/>
 <path d="M558,687 C546,688 535,700 534.500,722 C534,745 538,768 552,769.500 C568,771 581,752 582.500,725 C583.500,703 574,689 561,687.500" fill="none" stroke="#5a5a5a" stroke-width="2.200"/>
 <path d="M532.300,722 C531.800,746 536.500,770.500 552,772" fill="none" stroke="#ffffff" stroke-width="1.800"/>
 <path d="M558,684.800 C571,685.500 585,700 584.800,725 C583.500,753 569,773 552,772" fill="none" stroke="#ffffff" stroke-width="1.500"/>
 <path d="M579,716 L585,717.500" stroke="#333" stroke-width="2"/>
</g>

<!-- watermark -->
<g transform="translate(298,687) scale(0.85) translate(-865.7,-1009.5)" opacity="0.05">
<g fill="none" stroke="#fff" stroke-width="6.2">
 <polyline points="850.5,955.5 913,918.5 945,937.5"/>
 <line x1="865.7" y1="947" x2="865.7" y2="1009.5"/>
</g>
<g transform="translate(868,940) scale(0.140625)" fill="none" stroke="#fff" stroke-linecap="round" stroke-linejoin="round" stroke-width="32">
 <path d="M212,72 C190,140 130,260 88,365 M315,78 C280,110 220,170 160,215 C190,250 200,330 235,355 C250,360 265,350 275,335 M432,72 C410,140 360,260 322,362 M568,78 C530,110 450,180 395,215 C420,250 440,330 475,355 C495,362 510,345 520,330 M655,110 C640,170 610,270 590,335 M640,115 C680,70 770,55 790,105 C800,160 740,200 690,215 C750,215 790,250 775,295 C755,350 680,372 600,335 M935,160 C950,175 990,160 990,115 C985,70 920,55 885,110 C860,160 900,220 920,270 C940,330 900,360 850,360 C810,360 780,330 790,290"/>
</g>
<text x="876" y="1009" font-family="Liberation Sans, sans-serif" font-weight="bold" font-size="11.5" letter-spacing="12.6" fill="#fff">CURTAIN</text>
</g>
<!-- FREE items: screws, wall plugs, connector -->
<defs>
<linearGradient id="scr1" gradientUnits="userSpaceOnUse" x1="87.5" y1="911.9" x2="82.5" y2="918.9">
 <stop offset="0" stop-color="#87837a"/><stop offset="0.35" stop-color="#e0dcd3"/><stop offset="0.7" stop-color="#a09b92"/><stop offset="1" stop-color="#6b6861"/>
</linearGradient>
<linearGradient id="scr2" gradientUnits="userSpaceOnUse" x1="95.6" y1="920" x2="99.4" y2="926.6">
 <stop offset="0" stop-color="#8a867d"/><stop offset="0.4" stop-color="#dedad1"/><stop offset="0.75" stop-color="#a09b92"/><stop offset="1" stop-color="#6e6b64"/>
</linearGradient>
<linearGradient id="plugA" gradientUnits="userSpaceOnUse" x1="146" y1="934" x2="157" y2="953">
 <stop offset="0" stop-color="#c9cbc6"/><stop offset="0.35" stop-color="#b3b5b0"/><stop offset="0.7" stop-color="#92948f"/><stop offset="1" stop-color="#777974"/>
</linearGradient>
<linearGradient id="plugB" gradientUnits="userSpaceOnUse" x1="168" y1="924" x2="164" y2="942">
 <stop offset="0" stop-color="#c4c6c1"/><stop offset="0.5" stop-color="#a4a6a1"/><stop offset="1" stop-color="#7c7e79"/>
</linearGradient>
<linearGradient id="connG" gradientUnits="userSpaceOnUse" x1="340" y1="890" x2="490" y2="970">
 <stop offset="0" stop-color="#d4d6d7"/><stop offset="0.3" stop-color="#b4b7b8"/><stop offset="0.6" stop-color="#a5a8a9"/><stop offset="1" stop-color="#b0b3b4"/>
</linearGradient>
</defs>
<g id="freeitems">
 <!-- plug B (behind) -->
 <path d="M119,915 L123,913.5 L158,920 L196,931 L213,937 L216,941 L214,948.5 L206,950 L182,948 L150,940 L121,931.5 L117.5,928 Z" fill="url(#plugB)"/>
 <path d="M119,915 L123,913.5 L126,929 L121,931.5 L117.5,928 Z" fill="#b9bbb6"/>
 <path d="M196,931 L213,937 L216,941 L214,948.5 L206,950 L190,948.5 Z" fill="#8f918c"/>
 <path d="M199,935 L212,940 M197,941 L211,946" stroke="#6f716c" stroke-width="1.2" fill="none"/>
 <!-- screw 2 (behind screw 1) -->
 <line x1="62" y1="943.5" x2="133" y2="903.2" stroke="url(#scr2)" stroke-width="7.6"/>
 <line x1="66" y1="941.2" x2="131" y2="904.3" stroke="#5d5a53" stroke-width="8.4" stroke-dasharray="1.3 3.1" opacity="0.55"/>
 <path d="M129,901.5 L137,901 L132.5,908 Z" fill="#8a857c"/>
 <ellipse cx="55.3" cy="948.5" rx="6.3" ry="14" transform="rotate(-28 55.3 948.5)" fill="#8f8a80"/>
 <ellipse cx="54.3" cy="949" rx="4.6" ry="12" transform="rotate(-28 54.3 949)" fill="#bdb8ae"/>
 <path d="M49.5,944 L59,954 M57,944.5 L51,953" stroke="#6d685f" stroke-width="1.3"/>
 <path d="M58,940.5 L66,938.5 L68,946 L62.5,950 Z" fill="#9e998f"/>
 <!-- screw 1 -->
 <line x1="52" y1="892" x2="118" y2="938.8" stroke="url(#scr1)" stroke-width="8.6"/>
 <line x1="56" y1="894.8" x2="116" y2="937.4" stroke="#5d5a53" stroke-width="9.4" stroke-dasharray="1.3 3.1" opacity="0.55"/>
 <path d="M113.5,940.5 L122.5,942 L118.5,933.5 Z" fill="#8a857c"/>
 <path d="M38,879 L46,876.5 L57,889 L51,897.5 L39.5,898.5 L36,889 Z" fill="#8d887f"/>
 <path d="M39,880 L46,877.5 L49.5,887 L41,897 L37,889 Z" fill="#c3beb4"/>
 <path d="M49,886 L57,889.5 L52,898 L43,897 Z" fill="#77736a"/>
 <!-- plug A (front) -->
 <path d="M103.5,967 L108,960 L150,934 L186,909.5 L191,906.5 L196.5,908.5 L201,918 L199.5,925 L170,941 L140,961 L110,978.5 L106.5,978 Z" fill="url(#plugA)"/>
 <path d="M186,909.5 L191,906.5 L196.5,908.5 L201,918 L199.5,925 L194.5,926.5 Z" fill="#c4c6c1" stroke="#8b8d88" stroke-width="0.8"/>
 <path d="M112,966.5 L160,936.5 L163,940.5 L114,970.5 Z" fill="#6d6f6a"/>
 <path d="M114,969 L160,940" stroke="#c7c9c4" stroke-width="1.2"/>
 <path d="M180,922 L193,914.5 L194.500,917 L181.5,924.5 Z" fill="#c8cac5" stroke="#868883" stroke-width="0.6"/>
 <path d="M125,947.500 L128,955 L132,951 Z M108.500,956.500 L112,963 L116,958 Z M140,964 L146,967.500 L146,960 Z M157,953.500 L165,957 L163,950 Z M107,978 L109,985 L113,977 Z" fill="#a9aba6"/>
 <!-- connector -->
 <polygon points="346.900,885.400 498.700,917.200 488.400,972.500 325.400,931.500" fill="url(#connG)"/>
 <polygon points="327.800,926.300 489.400,967 488.400,972.500 325.400,931.500" fill="#8a8d8e"/>
 <polygon points="329.500,922.600 490.200,963 489.400,967 327.800,926.300" fill="#e3e5e6"/>
 <g stroke="#7b7e80" stroke-width="1" fill="none">
  <line x1="345.600" y1="888.200" x2="498.100" y2="920.200"/>
  <line x1="344.300" y1="891" x2="497.600" y2="923.300"/>
  <line x1="337.900" y1="904.800" x2="495" y2="937.100" stroke="#8d9092" stroke-width="0.9"/>
  <line x1="333.600" y1="914" x2="492.300" y2="951.500"/>
  <line x1="331.900" y1="917.700" x2="491.400" y2="956.500"/>
 </g>
 <g stroke="#dfe1e2" stroke-width="1" fill="none">
  <line x1="345" y1="889.600" x2="497.900" y2="921.700"/>
  <line x1="332.700" y1="915.800" x2="491.900" y2="954"/>
 </g>
 <g fill="#d9dbdc" stroke="#8a8d8f" stroke-width="1.2">
  <ellipse cx="355" cy="909" rx="6" ry="5"/><ellipse cx="393" cy="916.200" rx="6" ry="5"/><ellipse cx="434" cy="925.400" rx="6" ry="5"/><ellipse cx="475" cy="934" rx="6" ry="5"/>
 </g>
 <g fill="#9da0a2">
  <circle cx="355" cy="909" r="2"/><circle cx="393" cy="916.200" r="2"/><circle cx="434" cy="925.400" r="2"/><circle cx="475" cy="934" r="2"/>
 </g>
</g>

<!-- callout lines -->
<g fill="none" stroke="#c53a31" stroke-width="2" stroke-dasharray="7.6 3.9">
 <polyline points="963.5,179.8 554,179.8 509,224.5"/>
 <polyline points="963,337.5 489,337.5 442,385"/>
 <polyline points="963,534 333,534 285.5,584"/>
 <polyline points="963,708 526.5,708 480,755"/>
</g>
<!-- title underline -->
<rect x="68" y="103.1" width="390.5" height="4" fill="#111"/>
<!-- plus -->
<rect x="243.8" y="937" width="20.6" height="4" fill="#111"/><rect x="252.1" y="928.7" width="4" height="20.6" fill="#111"/>
<!-- logo -->
<rect x="824" y="940.5" width="4.2" height="66.5" fill="#111"/>
<g fill="none" stroke="#111" stroke-width="6.2">
 <polyline points="850.5,955.5 913,918.5 945,937.5" stroke-linejoin="miter"/>
 <line x1="865.7" y1="947" x2="865.7" y2="1009.5"/>
</g>
<rect x="889.4" y="917.3" width="7.4" height="9" fill="#111"/>
<g transform="translate(868,940) scale(0.140625)" fill="none" stroke="#1d7e85" stroke-linecap="round" stroke-linejoin="round">
 <path d="M45,215 C40,190 80,150 150,120 C180,105 200,90 210,75" stroke-width="24"/>
 <path d="M212,72 C190,140 130,260 88,365" stroke-width="38"/>
 <path d="M315,78 C280,110 220,170 160,215" stroke-width="31"/>
 <path d="M165,210 C190,250 200,330 235,355 C250,360 265,350 275,335" stroke-width="31"/>
 <path d="M432,72 C410,140 360,260 322,362" stroke-width="38"/>
 <path d="M568,78 C530,110 450,180 395,215" stroke-width="31"/>
 <path d="M395,215 C420,250 440,330 475,355 C495,362 510,345 520,330" stroke-width="31"/>
 <path d="M655,110 C640,170 610,270 590,335" stroke-width="38"/>
 <path d="M600,330 C570,350 530,330 535,290 C540,250 570,235 590,240" stroke-width="24"/>
 <path d="M640,115 C680,70 770,55 790,105 C800,160 740,200 690,215" stroke-width="31"/>
 <path d="M690,215 C750,215 790,250 775,295 C755,350 680,372 600,335" stroke-width="33"/>
 <path d="M935,160 C950,175 990,160 990,115 C985,70 920,55 885,110 C860,160 900,220 920,270 C940,330 900,360 850,360 C810,360 780,330 790,290 C795,265 830,255 845,275" stroke-width="31"/>
</g>
</svg>

<div class="t" id="t1" style="left:67px;top:52.5px;font-size:47px;font-weight:bold;letter-spacing:2px;-webkit-text-stroke:0.7px #111;">COMPLETE SET</div>
<div class="t" id="t2" style="left:471.5px;top:64.1px;font-size:35.5px;font-weight:bold;letter-spacing:-1.73px;">FULL ACCESSORIES</div>

<div class="t lbl r" id="l1" style="right:58px;top:152px;letter-spacing:0.69px;">Metal End Cap</div>
<div class="t lbl r" id="l2" style="right:58.5px;top:309px;letter-spacing:0.63px;">Heavy Duty Track</div>
<div class="t lbl r" id="l3" style="right:58px;top:477px;letter-spacing:0.63px;">Metal Bracket</div>
<div class="t r" id="l3b" style="right:59px;top:503.5px;font-size:16px;letter-spacing:0.35px;color:#b3b3b3;">(Default Wall Bracket, PM for ceiling bracket)</div>
<div class="t lbl r" id="l4" style="right:59px;top:680px;letter-spacing:0.5px;">Heavy Duty Aluminium Alloy Roller</div>

<div class="t" id="free" style="left:47.5px;top:845.5px;font-size:28px;font-weight:bold;letter-spacing:0.3px;">FREE:</div>
<div class="t" id="c1" style="left:62px;top:989px;font-size:14.5px;">Screws &amp; wall plugs</div>
<div class="t" id="c2" style="left:318.6px;top:988px;font-size:15.2px;">Connector <span style="font-size:11.3px;-webkit-text-stroke:0.3px #222;color:#222;margin-left:-1.5px;">(for 8ft and above only)</span></div>

<div class="t" id="k1" style="left:695px;top:942px;font-size:30px;font-weight:bold;letter-spacing:5px;">KKBS</div>
<div class="t" id="k2" style="left:620px;top:975px;font-size:30px;font-weight:bold;letter-spacing:6.8px;">CURTAIN</div>
<div class="t" id="k4" style="left:876px;top:999px;font-size:11.5px;font-weight:bold;letter-spacing:12.6px;">CURTAIN</div>
</body></html>
